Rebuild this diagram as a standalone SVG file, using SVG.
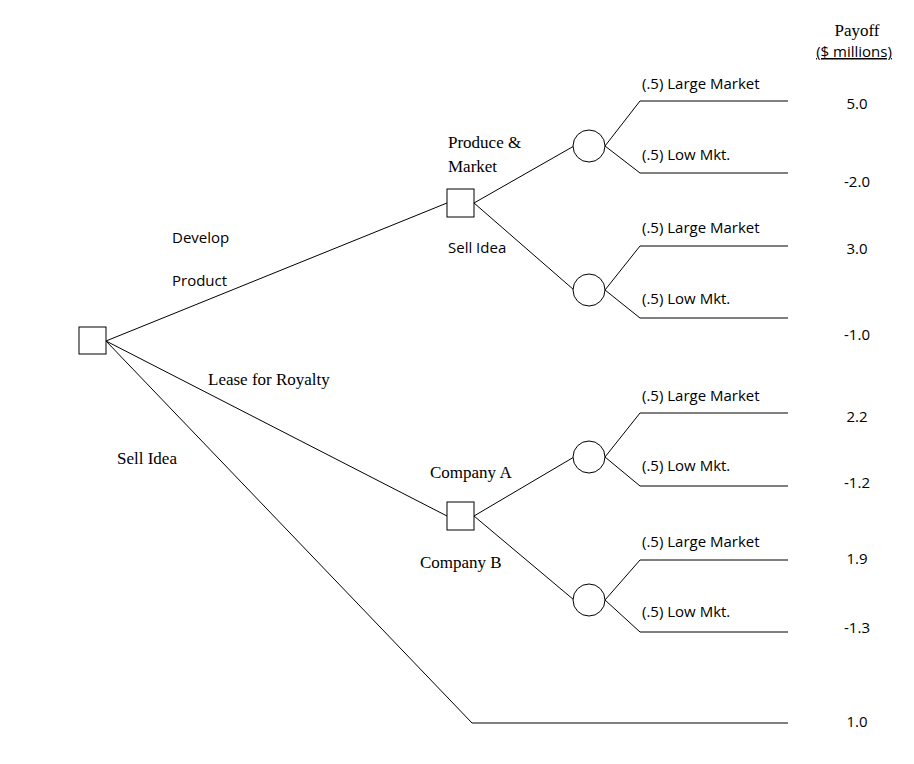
<svg xmlns="http://www.w3.org/2000/svg" width="914" height="764" viewBox="0 0 914 764">
<style>
.l{stroke:#000;stroke-width:1;fill:none}
.s{fill:#fff;stroke:#000;stroke-width:1}
.t{font-family:"Liberation Serif",serif;font-size:17px}
.a{font-family:"Open Sans","Liberation Sans",sans-serif;font-size:15px}
.p{font-family:"Open Sans","Liberation Sans",sans-serif;font-size:15px;text-anchor:middle}
</style>
<rect width="914" height="764" fill="#fff"/>
<g id="connectors">
<path class="l" d="M106,341 L447,203 M106,341 L447,516 M106,341 L472,723 L788,723"/>
<path class="l" d="M474,203 L574,146 M474,203 L574,290 M474,516 L574,457 M474,516 L574,600"/>
<path class="l" d="M605,146 L640,101 L788,101 M605,146 L640,173 L788,173"/>
<path class="l" d="M605,290 L640,246 L788,246 M605,290 L640,318 L788,318"/>
<path class="l" d="M605,457 L640,413 L788,413 M605,457 L640,486 L788,486"/>
<path class="l" d="M605,600 L640,560 L788,560 M605,600 L640,632 L788,632"/>
</g>
<g id="root"><rect class="s" x="79" y="327" width="27" height="27"/></g>
<g id="d1"><rect class="s" x="447" y="189" width="27" height="28"/></g>
<g id="d2"><rect class="s" x="447" y="502" width="27" height="28"/></g>
<g id="c1"><circle class="s" cx="589" cy="146" r="16"/></g>
<g id="c2"><circle class="s" cx="589" cy="290" r="16"/></g>
<g id="c3"><circle class="s" cx="589" cy="457" r="16"/></g>
<g id="c4"><circle class="s" cx="589" cy="600" r="16"/></g>
<g id="labels">
<text class="t" x="857" y="36" text-anchor="middle">Payoff</text>
<text class="p" x="854" y="57" text-decoration="underline">($ millions)</text>
<text class="a" x="172" y="243">Develop</text>
<text class="a" x="172" y="286">Product</text>
<text class="t" x="208" y="385">Lease for Royalty</text>
<text class="t" x="117" y="464">Sell Idea</text>
<text class="t" x="448" y="148">Produce &amp;</text>
<text class="t" x="448" y="172">Market</text>
<text class="a" x="448" y="253">Sell Idea</text>
<text class="t" x="430" y="478">Company A</text>
<text class="t" x="420" y="568">Company B</text>
<text class="a" x="642" y="89">(.5) Large Market</text>
<text class="a" x="642" y="160">(.5) Low Mkt.</text>
<text class="a" x="642" y="233">(.5) Large Market</text>
<text class="a" x="642" y="304">(.5) Low Mkt.</text>
<text class="a" x="642" y="401">(.5) Large Market</text>
<text class="a" x="642" y="471">(.5) Low Mkt.</text>
<text class="a" x="642" y="547">(.5) Large Market</text>
<text class="a" x="642" y="617">(.5) Low Mkt.</text>
<text class="p" x="857" y="109">5.0</text>
<text class="p" x="857" y="187">-2.0</text>
<text class="p" x="857" y="254">3.0</text>
<text class="p" x="857" y="340">-1.0</text>
<text class="p" x="857" y="422">2.2</text>
<text class="p" x="857" y="488">-1.2</text>
<text class="p" x="857" y="564">1.9</text>
<text class="p" x="857" y="633">-1.3</text>
<text class="p" x="857" y="727">1.0</text>
</g>
</svg>
